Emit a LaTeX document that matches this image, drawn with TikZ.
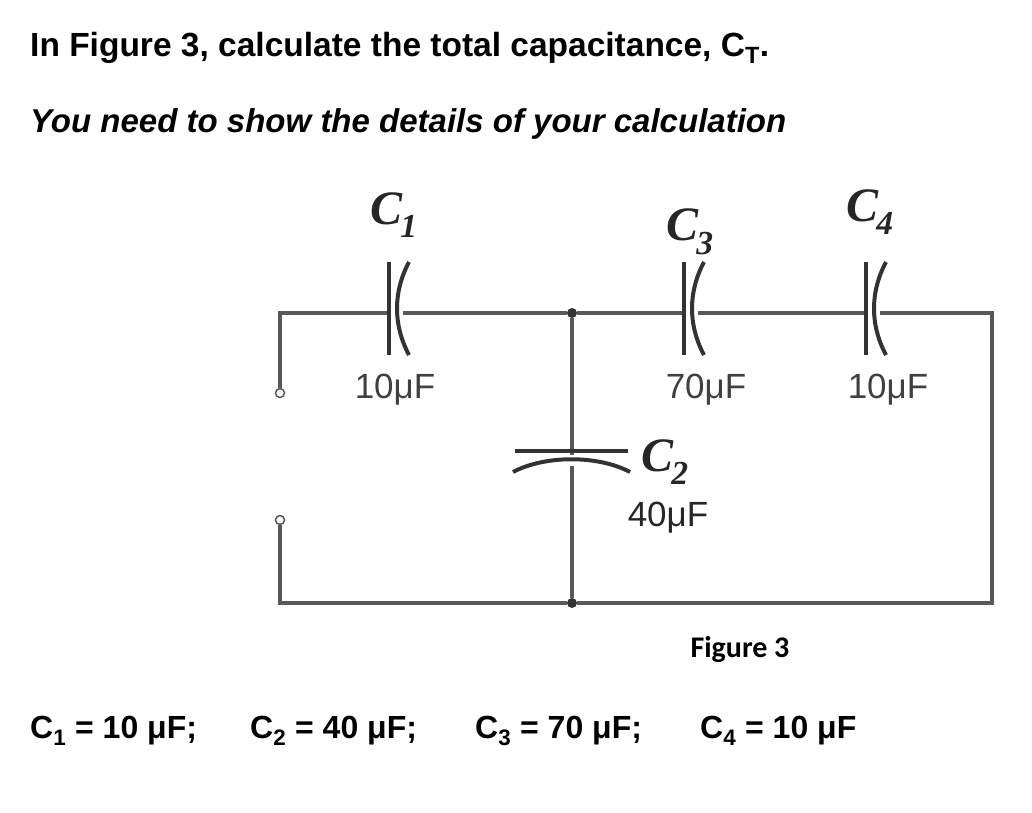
\documentclass[tikz,border=0pt]{standalone}
\usepackage{fontspec}
\setmainfont{Liberation Sans}
\newfontfamily\capfont{Liberation Serif}
\newfontfamily\figfont{Carlito}
\begin{document}
\begin{tikzpicture}[x=1pt,y=-1pt,
  wire/.style={line width=3.5pt,draw=black!65},
  plate/.style={line width=4pt,draw=black!80},
  lbl/.style={font=\capfont\bfseries\itshape\fontsize{48}{50}\selectfont,text=black!85,inner sep=0},
  val/.style={font=\fontsize{35}{38}\selectfont,text=black!75,inner sep=0},
  txt/.style={font=\bfseries\fontsize{32}{36}\selectfont,anchor=west,inner sep=0},
  term/.style={circle,draw=black!65,line width=1.5pt,fill=white,inner sep=0,minimum size=9pt},
  dot/.style={circle,fill=black!80,inner sep=0,minimum size=10pt}]
\useasboundingbox (0,0) rectangle (1032,812);
\node[txt,font=\bfseries\fontsize{33.5}{36}\selectfont] (t1) at (30,48) {In Figure 3, calculate the total capacitance, C\textsubscript{T}.};
\node[txt,font=\bfseries\itshape\fontsize{33}{36}\selectfont] (t2) at (30,124) {You need to show the details of your calculation};
\coordinate (tl) at (280,313);
\coordinate (tr) at (992,313);
\coordinate (bl) at (280,603);
\coordinate (br) at (992,603);
\node[dot] (jt) at (572,313) {};
\node[dot] (jb) at (572,603) {};
\node[term] (ta) at (280,393) {};
\node[term] (tb) at (280,520) {};
\draw[wire] (ta) -- (tl) -- (jt) -- (tr) -- (br) -- (jb) -- (bl) -- (tb);
\draw[wire] (jt) -- (jb);
\foreach \x in {389,684,866}{
  \fill[white] (\x+2.2,275) rectangle (\x+14,350);
  \draw[plate] (\x,262) -- (\x,355);
  \draw[plate] (\x+20,262) .. controls (\x+4,292) and (\x+4,325) .. (\x+20,355);
}
\fill[white] (520,455) rectangle (625,466);
\draw[plate] (515,451) -- (628,451);
\draw[plate] (513,472) .. controls (545,455) and (598,455) .. (630,472);
\node[lbl] (l1) at (394,215) {C\kern-2pt\textsubscript{\itshape 1}};
\node[lbl] (l3) at (690,232) {C\kern-2pt\textsubscript{\itshape 3}};
\node[lbl] (l4) at (870,212) {C\kern-2pt\textsubscript{\itshape 4}};
\node[lbl] (l2) at (665,462) {C\kern-2pt\textsubscript{\itshape 2}};
\node[val] (v1) at (395,390) {10μF};
\node[val] (v3) at (706,390) {70μF};
\node[val] (v4) at (888,390) {10μF};
\node[val,text=black!85] (v2) at (668,518) {40μF};
\node[font=\figfont\bfseries\fontsize{30}{34}\selectfont,inner sep=0] (fig) at (740,650) {Figure 3};
\node[txt] (a1) at (30,731) {C\textsubscript{1} = 10 μF;};
\node[txt] (a2) at (250,731) {C\textsubscript{2} = 40 μF;};
\node[txt] (a3) at (475,731) {C\textsubscript{3} = 70 μF;};
\node[txt] (a4) at (700,731) {C\textsubscript{4} = 10 μF};
\end{tikzpicture}
\end{document}
